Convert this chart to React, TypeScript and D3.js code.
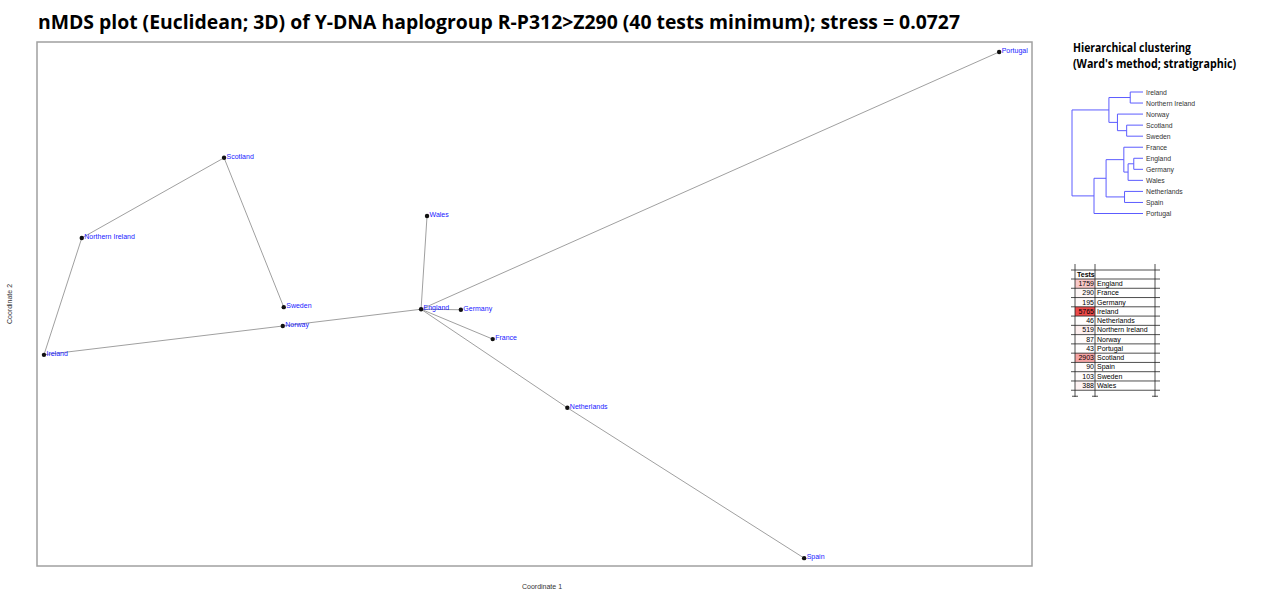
import * as d3 from "d3";

// nMDS coordinates
const countries = [
  "Portugal", "Scotland", "Wales", "Northern Ireland", "Sweden", "England",
  "Germany", "Norway", "France", "Ireland", "Netherlands", "Spain",
];
const coord1 = [0.467, -0.312, -0.108, -0.455, -0.252, -0.114, -0.074, -0.253, -0.042, -0.493, 0.033, 0.271];
const coord2 = [0.481, 0.279, 0.168, 0.126, -0.006, -0.01, -0.011, -0.042, -0.067, -0.097, -0.198, -0.485];

// minimum spanning tree links
const links: [string, string][] = [
  ["Ireland", "Northern Ireland"],
  ["Northern Ireland", "Scotland"],
  ["Scotland", "Sweden"],
  ["Ireland", "Norway"],
  ["Norway", "England"],
  ["England", "Wales"],
  ["England", "Portugal"],
  ["England", "Germany"],
  ["England", "France"],
  ["England", "Netherlands"],
  ["Netherlands", "Spain"],
];

// Ward's dendrogram (merge heights)
const tree: any = {
  h: 1.0,
  c: [
    { h: 0.48, c: [{ h: 0.18, c: ["Ireland", "Northern Ireland"] }, { h: 0.36, c: ["Norway", { h: 0.23, c: ["Scotland", "Sweden"] }] }] },
    {
      h: 0.69,
      c: [
        {
          h: 0.52,
          c: [
            { h: 0.27, c: ["France", { h: 0.21, c: [{ h: 0.13, c: ["England", "Germany"] }, "Wales"] }] },
            { h: 0.26, c: ["Netherlands", "Spain"] },
          ],
        },
        "Portugal",
      ],
    },
  ],
};

// test counts table
const tableNames = ["England", "France", "Germany", "Ireland", "Netherlands", "Northern Ireland", "Norway", "Portugal", "Scotland", "Spain", "Sweden", "Wales"];
const tableTests = [1759, 290, 195, 5765, 46, 519, 87, 43, 2903, 90, 103, 388];

const small = "'Liberation Sans', Arial, sans-serif";
const bold = "'Open Sans', 'Noto Sans', sans-serif";

const App = () => {
  const plot = { left: 37, top: 42, right: 1032, bottom: 566 };
  const x = d3.scaleLinear().domain([-0.5, 0.5]).range([plot.left, plot.right]);
  const y = d3.scaleLinear().domain([-0.5, 0.5]).range([plot.bottom, plot.top]);
  const pos = (n: string) => {
    const i = countries.indexOf(n);
    return [x(coord1[i]), y(coord2[i])];
  };

  // dendrogram
  const root = d3.hierarchy(tree, (d: any) => (typeof d === "string" ? null : d.c));
  const leaves = root.leaves();
  const ly = d3.scaleLinear().domain([0, leaves.length - 1]).range([92, 213.5]);
  const hx = d3.scaleLinear().domain([0, 1]).range([1143, 1072]);
  leaves.forEach((l: any, i) => (l.py = ly(i)));
  root.eachAfter((n: any) => {
    if (n.children) n.py = (n.children[0].py + n.children[n.children.length - 1].py) / 2;
    n.px = typeof n.data === "string" ? hx(0) : hx(n.data.h);
  });
  const dendroLines: string[] = [];
  root.each((n: any) => {
    if (!n.children) return;
    const ys = n.children.map((c: any) => c.py);
    dendroLines.push(`M${n.px},${d3.min(ys)}V${d3.max(ys)}`);
    n.children.forEach((c: any) => dendroLines.push(`M${n.px},${c.py}H${c.px}`));
  });

  // table
  const rowH = 9.27;
  const tTop = 270;
  const colX = [1075, 1095, 1155];
  const heat = d3.scaleLinear<string>().domain([0, d3.max(tableTests) as number]).range(["#ffffff", "#ec4a4a"]);
  const rowY = d3.range(tableNames.length + 2).map((i) => tTop + (i === 0 ? 0 : 9 + (i - 1) * rowH));
  const lastY = rowY[rowY.length - 1];

  return (
    <svg width={1280} height={607} style={{ position: "absolute", left: 0, top: 0, background: "#fff" }}>
      <text x={38} y={29} fontFamily={bold} fontWeight="bold" fontSize={20} textLength={922} lengthAdjust="spacingAndGlyphs" fill="#000">
        nMDS plot (Euclidean; 3D) of Y-DNA haplogroup R-P312&gt;Z290 (40 tests minimum); stress = 0.0727
      </text>

      <rect x={plot.left} y={plot.top} width={plot.right - plot.left} height={plot.bottom - plot.top} fill="none" stroke="#a0a0a0" strokeWidth={1.5} />

      {links.map(([a, b], i) => {
        const [x1, y1] = pos(a);
        const [x2, y2] = pos(b);
        return <line key={i} x1={x1} y1={y1} x2={x2} y2={y2} stroke="#a0a0a0" strokeWidth={1} />;
      })}
      {countries.map((c, i) => (
        <g key={c}>
          <circle cx={x(coord1[i])} cy={y(coord2[i])} r={2.2} fill="#111" />
          <text x={x(coord1[i]) + 2.5} y={y(coord2[i]) + 1} fontFamily={small} fontSize={7} fill="#2020ff">
            {c}
          </text>
        </g>
      ))}

      <text x={542} y={589} textAnchor="middle" fontFamily={small} fontSize={7} fill="#333">
        Coordinate 1
      </text>
      <text transform="translate(12,304) rotate(-90)" textAnchor="middle" fontFamily={small} fontSize={7} fill="#333">
        Coordinate 2
      </text>

      {/* dendrogram */}
      <text x={1073} y={52} fontFamily={bold} fontWeight="bold" fontSize={11.5} textLength={118} lengthAdjust="spacingAndGlyphs">
        Hierarchical clustering
      </text>
      <text x={1073} y={68} fontFamily={bold} fontWeight="bold" fontSize={11.5} textLength={163} lengthAdjust="spacingAndGlyphs">
        (Ward's method; stratigraphic)
      </text>
      <path d={dendroLines.join("")} fill="none" stroke="#5c5cff" strokeWidth={1} />
      {leaves.map((l: any) => (
        <text key={l.data} x={1146} y={l.py + 2.5} fontFamily={small} fontSize={6.8} fill="#333">
          {l.data}
        </text>
      ))}

      {/* tests table */}
      {tableTests.map((v, i) => (
        <rect key={i} x={colX[0]} y={rowY[i + 1]} width={colX[1] - colX[0]} height={rowH} fill={heat(v)} />
      ))}
      {rowY.map((yy, i) => (
        <line key={i} x1={1071} x2={1160} y1={yy} y2={yy} stroke="#222" strokeWidth={0.8} />
      ))}
      {colX.map((cx, i) => (
        <g key={i}>
          <line x1={cx} x2={cx} y1={264} y2={397} stroke="#222" strokeWidth={0.8} />
          <line x1={cx - 3} x2={cx + 3} y1={lastY + 6} y2={lastY + 6} stroke="#222" strokeWidth={0.8} />
        </g>
      ))}
      <text x={1077} y={tTop + 7} fontFamily={small} fontWeight="bold" fontSize={7} fill="#000">
        Tests
      </text>
      {tableNames.map((n, i) => (
        <g key={n}>
          <text x={colX[1] - 1} y={rowY[i + 1] + 7} textAnchor="end" fontFamily={small} fontSize={7} fill="#000">
            {tableTests[i]}
          </text>
          <text x={colX[1] + 2} y={rowY[i + 1] + 7} fontFamily={small} fontSize={7} fill="#000">
            {n}
          </text>
        </g>
      ))}
    </svg>
  );
};

export default App;
